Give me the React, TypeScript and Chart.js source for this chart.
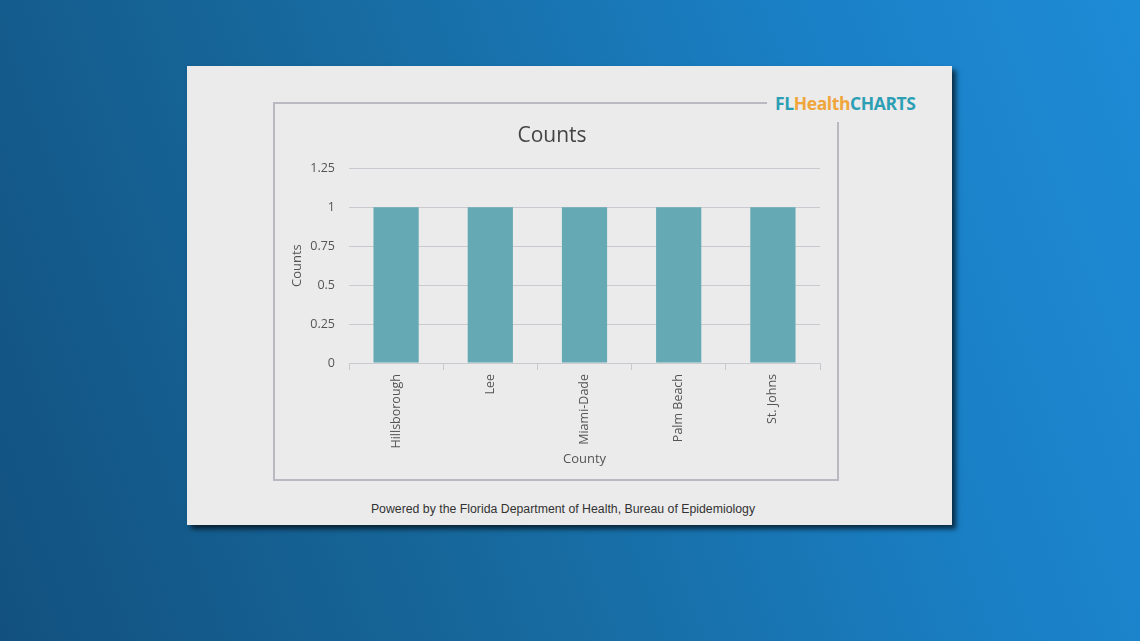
import React, { useEffect, useRef } from "react";
import { Chart, registerables } from "chart.js";

Chart.register(...registerables);

// County case counts
const counties: string[] = ["Hillsborough", "Lee", "Miami-Dade", "Palm Beach", "St. Johns"];
const counts: number[] = [1, 1, 1, 1, 1];
const yTicks: number[] = [0, 0.25, 0.5, 0.75, 1, 1.25];

const chartTitle = "Counts";
const yAxisTitle = "Counts";
const xAxisTitle = "County";
const footerText = "Powered by the Florida Department of Health, Bureau of Epidemiology";

const BAR_COLOR = "#64a9b3";
const GRID_COLOR = "#c9c9cf";
const FONT = "'Open Sans', 'Noto Sans', sans-serif";

function CountsChart() {
  const canvasRef = useRef<HTMLCanvasElement | null>(null);

  useEffect(() => {
    if (!canvasRef.current) return;
    const chart = new Chart(canvasRef.current, {
      type: "bar",
      data: {
        labels: counties,
        datasets: [
          {
            label: yAxisTitle,
            data: counts,
            backgroundColor: BAR_COLOR,
            borderWidth: 0,
            barPercentage: 0.48,
            categoryPercentage: 1,
          },
        ],
      },
      options: {
        animation: false,
        responsive: false,
        maintainAspectRatio: false,
        layout: { padding: { left: 10, right: 18, top: 4, bottom: 0 } },
        plugins: {
          legend: { display: false },
          tooltip: { enabled: false },
          title: {
            display: true,
            text: chartTitle,
            color: "#444",
            font: { family: FONT, size: 21, weight: "normal", lineHeight: 1.2 },
            padding: { top: 14, bottom: 20 },
          },
        },
        scales: {
          x: {
            grid: {
              display: true,
              drawOnChartArea: false,
              drawTicks: true,
              tickLength: 7,
              color: GRID_COLOR,
              offset: true,
            },
            border: { display: true, color: GRID_COLOR, width: 1 },
            ticks: {
              color: "#555",
              font: { family: FONT, size: 12.5 },
              minRotation: 90,
              maxRotation: 90,
              autoSkip: false,
              padding: 4,
            },
            title: {
              display: true,
              text: xAxisTitle,
              color: "#555",
              font: { family: FONT, size: 13 },
              padding: { top: 14, bottom: 14 },
            },
            afterFit: (scale: any) => {
              scale.height = 118;
            },
          },
          y: {
            min: 0,
            max: 1.25,
            afterBuildTicks: (scale: any) => {
              scale.ticks = yTicks.map((v) => ({ value: v }));
            },
            grid: {
              display: true,
              drawTicks: false,
              color: GRID_COLOR,
            },
            border: { display: false },
            ticks: {
              color: "#555",
              font: { family: FONT, size: 12.5 },
              padding: 14,
              callback: (v: any) => String(v),
            },
            title: {
              display: true,
              text: yAxisTitle,
              color: "#555",
              font: { family: FONT, size: 13 },
              padding: { top: 5, bottom: 4 },
            },
            afterFit: (scale: any) => {
              scale.width = 65;
            },
          },
        },
      },
    });
    return () => chart.destroy();
  }, []);

  return <canvas ref={canvasRef} width={564} height={376} style={{ display: "block" }} />;
}

export default function App() {
  return (
    <div
      style={{
        position: "fixed",
        left: 0,
        top: 0,
        width: 1140,
        height: 641,
        overflow: "hidden",
        background: "linear-gradient(70deg, #12517f 0%, #176a9f 40%, #1a80c6 75%, #1e8bd6 100%)",
      }}
    >
      {/* report card */}
      <div
        style={{
          position: "absolute",
          left: 187,
          top: 66,
          width: 765,
          height: 459,
          background: "#ebebeb",
          boxShadow: "4px 4px 5px rgba(0,0,0,0.65)",
        }}
      >
        {/* chart frame */}
        <div
          style={{
            position: "absolute",
            left: 86,
            top: 36,
            width: 566,
            height: 379,
            border: "2px solid #b9b9c2",
            boxSizing: "border-box",
          }}
        />
        {/* chart canvas */}
        <div style={{ position: "absolute", left: 87, top: 39 }}>
          <CountsChart />
        </div>
        {/* logo masks the top-right corner of the frame */}
        <div
          style={{
            position: "absolute",
            left: 580,
            top: 22,
            width: 160,
            height: 34,
            background: "#ebebeb",
          }}
        >
          <div
            style={{
              position: "absolute",
              left: 8,
              top: 3,
              fontFamily: FONT,
              fontWeight: 700,
              fontSize: 17.5,
              letterSpacing: -0.4,
              lineHeight: "24px",
              whiteSpace: "nowrap",
            }}
          >
            <span style={{ color: "#2d9fb4" }}>FL</span>
            <span style={{ color: "#f0a53a" }}>Health</span>
            <span style={{ color: "#2d9fb4" }}>CHARTS</span>
          </div>
        </div>
        {/* footer */}
        <div
          style={{
            position: "absolute",
            left: 0,
            width: 752,
            top: 435,
            textAlign: "center",
            fontFamily: "'Liberation Sans', Arial, sans-serif",
            fontSize: 12.3,
            lineHeight: "16px",
            color: "#333",
            whiteSpace: "nowrap",
          }}
        >
          {footerText}
        </div>
      </div>
    </div>
  );
}
